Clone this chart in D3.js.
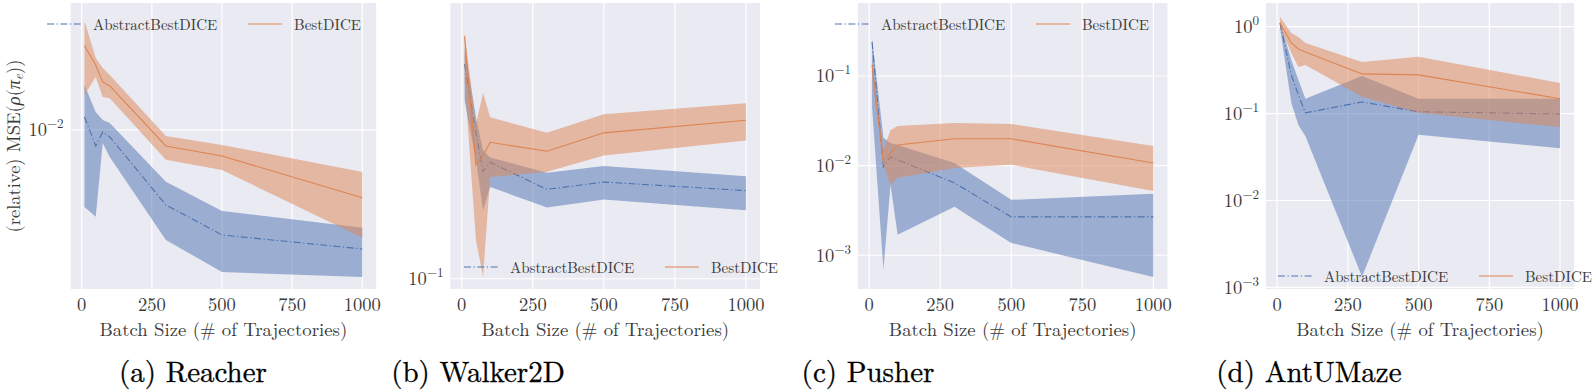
<!DOCTYPE html>
<html>
<head>
<meta charset="utf-8">
<script src="https://cdn.jsdelivr.net/npm/d3@7"></script>
</head>
<body style="margin:0; background:#ffffff">
<div id="container"></div>
<script>
// batch sizes on the x axis (same for all four panels)
let batchSizes = [10, 50, 75, 100, 300, 500, 1000];
let xTickValues = [0, 250, 500, 750, 1000];
let methodNames = ["AbstractBestDICE", "BestDICE"];
let panelTitles = ["(a) Reacher", "(b) Walker2D", "(c) Pusher", "(d) AntUMaze"];

// (a) Reacher
let reacherAbstractMean = [0.01127, 0.00863, 0.00982, 0.00938, 0.00501, 0.0038, 0.00334];
let reacherAbstractHigh = [0.01514, 0.0118, 0.01096, 0.01067, 0.0062, 0.00474, 0.00406];
let reacherAbstractLow  = [0.00492, 0.00449, 0.00887, 0.0078, 0.00363, 0.0027, 0.00258];
let reacherBestMean = [0.0217, 0.0182, 0.01556, 0.0150, 0.00863, 0.00787, 0.00535];
let reacherBestHigh = [0.0273, 0.0194, 0.0177, 0.0166, 0.00946, 0.00871, 0.00679];
let reacherBestLow  = [0.0138, 0.0163, 0.01355, 0.0134, 0.00759, 0.00692, 0.0037];

// (b) Walker2D
let walkerAbstractMean = [0.30, 0.211, 0.173, 0.1815, 0.158, 0.164, 0.157];
let walkerAbstractHigh = [0.326, 0.2285, 0.193, 0.186, 0.172, 0.178, 0.169];
let walkerAbstractLow  = [0.249, 0.184, 0.142, 0.160, 0.144, 0.150, 0.142];
let walkerBestMean = [0.346, 0.179, 0.188, 0.201, 0.192, 0.211, 0.225];
let walkerBestHigh = [0.352, 0.220, 0.259, 0.2285, 0.211, 0.232, 0.2455];
let walkerBestLow  = [0.277, 0.122, 0.101, 0.168, 0.173, 0.188, 0.203];

// (c) Pusher
let pusherAbstractMean = [0.239, 0.0097, 0.0125, 0.0116, 0.0064, 0.00268, 0.00268];
let pusherAbstractHigh = [0.266, 0.0204, 0.0179, 0.0170, 0.0107, 0.00415, 0.00484];
let pusherAbstractLow  = [0.0451, 0.00069, 0.0061, 0.00169, 0.00347, 0.00137, 0.00057];
let pusherBestMean = [0.133, 0.0107, 0.0139, 0.0170, 0.0199, 0.0199, 0.0107];
let pusherBestHigh = [0.140, 0.0150, 0.0250, 0.0277, 0.0299, 0.0292, 0.0166];
let pusherBestLow  = [0.0975, 0.0102, 0.0061, 0.0073, 0.0094, 0.0102, 0.0052];

// (d) AntUMaze
let antAbstractMean = [1.103, 0.279, 0.164, 0.102, 0.136, 0.105, 0.099];
let antAbstractHigh = [1.132, 0.414, 0.244, 0.148, 0.271, 0.148, 0.148];
let antAbstractLow  = [0.966, 0.133, 0.074, 0.055, 0.00133, 0.057, 0.040];
let antBestMean = [1.103, 0.650, 0.554, 0.512, 0.286, 0.279, 0.148];
let antBestHigh = [1.292, 0.846, 0.762, 0.650, 0.393, 0.449, 0.225];
let antBestLow  = [0.992, 0.499, 0.344, 0.363, 0.156, 0.102, 0.070];

// y axis ranges (log scale)
let reacherRange = [0.00231, 0.0322];
let walkerRange = [0.0949, 0.410];
let pusherRange = [0.00042, 0.652];
let antRange = [0.00096, 1.87];

let w = 1595;
let h = 392;
let plotTop = 3;
let plotBottom = 289;
let cmFont = "'Latin Modern Roman'";   // matplotlib usetex look

let blue = "#4c72b0";
let orange = "#dd8452";
let textGrey = "#3a3a3a";

let viz = d3.select("#container")
  .append("svg")
    .attr("width", w)
    .attr("height", h)
    .style("background-color", "white")
;

let panels = [
  {title: panelTitles[0], left: 70.6, right: 376.2, yRange: reacherRange, captionX: 193,
   legendY: 24, legendDx: -23.5,
   abstract: [reacherAbstractMean, reacherAbstractLow, reacherAbstractHigh],
   best: [reacherBestMean, reacherBestLow, reacherBestHigh]},
  {title: panelTitles[1], left: 450.5, right: 760, yRange: walkerRange, captionX: 478,
   legendY: 267, legendDx: 13.5,
   abstract: [walkerAbstractMean, walkerAbstractLow, walkerAbstractHigh],
   best: [walkerBestMean, walkerBestLow, walkerBestHigh]},
  {title: panelTitles[2], left: 858, right: 1167.4, yRange: pusherRange, captionX: 868,
   legendY: 24, legendDx: -23,
   abstract: [pusherAbstractMean, pusherAbstractLow, pusherAbstractHigh],
   best: [pusherBestMean, pusherBestLow, pusherBestHigh]},
  {title: panelTitles[3], left: 1266, right: 1574, yRange: antRange, captionX: 1309,
   legendY: 276, legendDx: 12,
   abstract: [antAbstractMean, antAbstractLow, antAbstractHigh],
   best: [antBestMean, antBestLow, antBestHigh]}
];

// matplotlib style 5% margin on x
let xExtent = d3.extent(batchSizes);
let xPad = (xExtent[1] - xExtent[0]) * 0.05;

function drawPanel(p, i){
  let g = viz.append("g").attr("class", "panel");

  let xScale = d3.scaleLinear().domain([xExtent[0] - xPad, xExtent[1] + xPad]).range([p.left, p.right]);
  let yScale = d3.scaleLog().domain(p.yRange).range([plotBottom, plotTop]);

  g.append("rect")
    .attr("x", p.left)
    .attr("y", plotTop)
    .attr("width", p.right - p.left)
    .attr("height", plotBottom - plotTop)
    .attr("fill", "#eaeaf2")
  ;

  // decades inside the range
  let yTicks = [];
  for (let e = Math.ceil(Math.log10(p.yRange[0])); e <= Math.floor(Math.log10(p.yRange[1])); e++) {
    yTicks.push(e);
  }

  g.selectAll(".xgrid").data(xTickValues).enter().append("line")
    .attr("x1", d => xScale(d)).attr("x2", d => xScale(d))
    .attr("y1", plotTop).attr("y2", plotBottom)
    .attr("stroke", "white").attr("stroke-width", 1.2)
  ;
  g.selectAll(".ygrid").data(yTicks).enter().append("line")
    .attr("x1", p.left).attr("x2", p.right)
    .attr("y1", d => yScale(Math.pow(10, d))).attr("y2", d => yScale(Math.pow(10, d)))
    .attr("stroke", "white").attr("stroke-width", 1.2)
  ;

  let clipId = "clip" + i;
  g.append("clipPath").attr("id", clipId)
    .append("rect")
      .attr("x", p.left).attr("y", plotTop)
      .attr("width", p.right - p.left).attr("height", plotBottom - plotTop)
  ;
  let plot = g.append("g").attr("clip-path", "url(#" + clipId + ")");

  let series = [
    {vals: p.abstract, color: blue, dash: "7,2.5,1.3,2.5"},
    {vals: p.best, color: orange, dash: null}
  ];

  series.forEach(function(s){
    let rows = batchSizes.map((b, k) => ({x: b, mean: s.vals[0][k], lo: s.vals[1][k], hi: s.vals[2][k]}));
    let area = d3.area()
      .x(d => xScale(d.x))
      .y0(d => yScale(d.lo))
      .y1(d => yScale(d.hi));
    let line = d3.line()
      .x(d => xScale(d.x))
      .y(d => yScale(d.mean));
    plot.append("path")
      .datum(rows)
      .attr("d", area)
      .attr("fill", s.color)
      .attr("fill-opacity", 0.5)
    ;
    plot.append("path")
      .datum(rows)
      .attr("d", line)
      .attr("fill", "none")
      .attr("stroke", s.color)
      .attr("stroke-width", 1.1)
      .attr("stroke-dasharray", s.dash)
    ;
  });

  // x tick labels
  g.selectAll(".xlabel").data(xTickValues).enter().append("text")
    .attr("x", d => xScale(d))
    .attr("y", 311)
    .attr("text-anchor", "middle")
    .style("font-family", cmFont)
    .attr("font-size", 18.5)
    .attr("fill", textGrey)
    .text(d => d)
  ;

  // y tick labels like 10^-2
  let yl = g.selectAll(".ylabel").data(yTicks).enter().append("text")
    .attr("x", p.left - 7)
    .attr("y", d => yScale(Math.pow(10, d)) + 6.5)
    .attr("text-anchor", "end")
    .style("font-family", cmFont)
    .attr("font-size", 18.5)
    .attr("fill", textGrey)
  ;
  yl.append("tspan").text("10");
  yl.append("tspan").attr("dy", -8).attr("font-size", 13).text(d => d < 0 ? "\u2212" + (-d) : "" + d);

  g.append("text")
    .attr("x", (p.left + p.right) / 2)
    .attr("y", 336)
    .attr("text-anchor", "middle")
    .style("font-family", cmFont)
    .attr("font-size", 18.8)
    .attr("fill", textGrey)
    .text("Batch Size (# of Trajectories)")
  ;

  // subfigure caption
  g.append("text")
    .attr("x", p.captionX)
    .attr("y", 382)
    .attr("text-anchor", "middle")
    .style("font-family", cmFont)
    .attr("font-size", 29)
    .attr("fill", "black")
    .attr("stroke", "black")
    .attr("stroke-width", 0.3)
    .text(p.title)
  ;

  // legend
  let lx = p.left + p.legendDx;
  let legendItems = [
    {name: methodNames[0], color: blue, dash: "7,2.5,1.3,2.5", dx: 0},
    {name: methodNames[1], color: orange, dash: null, dx: 201}
  ];
  legendItems.forEach(function(it){
    g.append("line")
      .attr("x1", lx + it.dx).attr("x2", lx + it.dx + 34)
      .attr("y1", p.legendY).attr("y2", p.legendY)
      .attr("stroke", it.color).attr("stroke-width", 1.1)
      .attr("stroke-dasharray", it.dash)
    ;
    g.append("text")
      .attr("x", lx + it.dx + 46)
      .attr("y", p.legendY + 5.5)
      .style("font-family", cmFont)
      .attr("font-size", 15)
      .attr("fill", textGrey)
      .text(it.name)
    ;
  });
}

panels.forEach(drawPanel);

// shared y axis title on the first panel
let yTitle = viz.append("text")
  .attr("transform", "translate(20, 146) rotate(-90)")
  .attr("text-anchor", "middle")
  .style("font-family", cmFont)
  .attr("font-size", 18.5)
  .attr("fill", textGrey)
;
yTitle.append("tspan").text("(relative) MSE(");
yTitle.append("tspan").attr("font-style", "italic").text("\u03c1");
yTitle.append("tspan").text("(");
yTitle.append("tspan").attr("font-style", "italic").text("\u03c0");
yTitle.append("tspan").attr("font-style", "italic").attr("font-size", 13).attr("dy", 3).text("e");
yTitle.append("tspan").attr("dy", -3).text("))");
</script>
</body>
</html>
